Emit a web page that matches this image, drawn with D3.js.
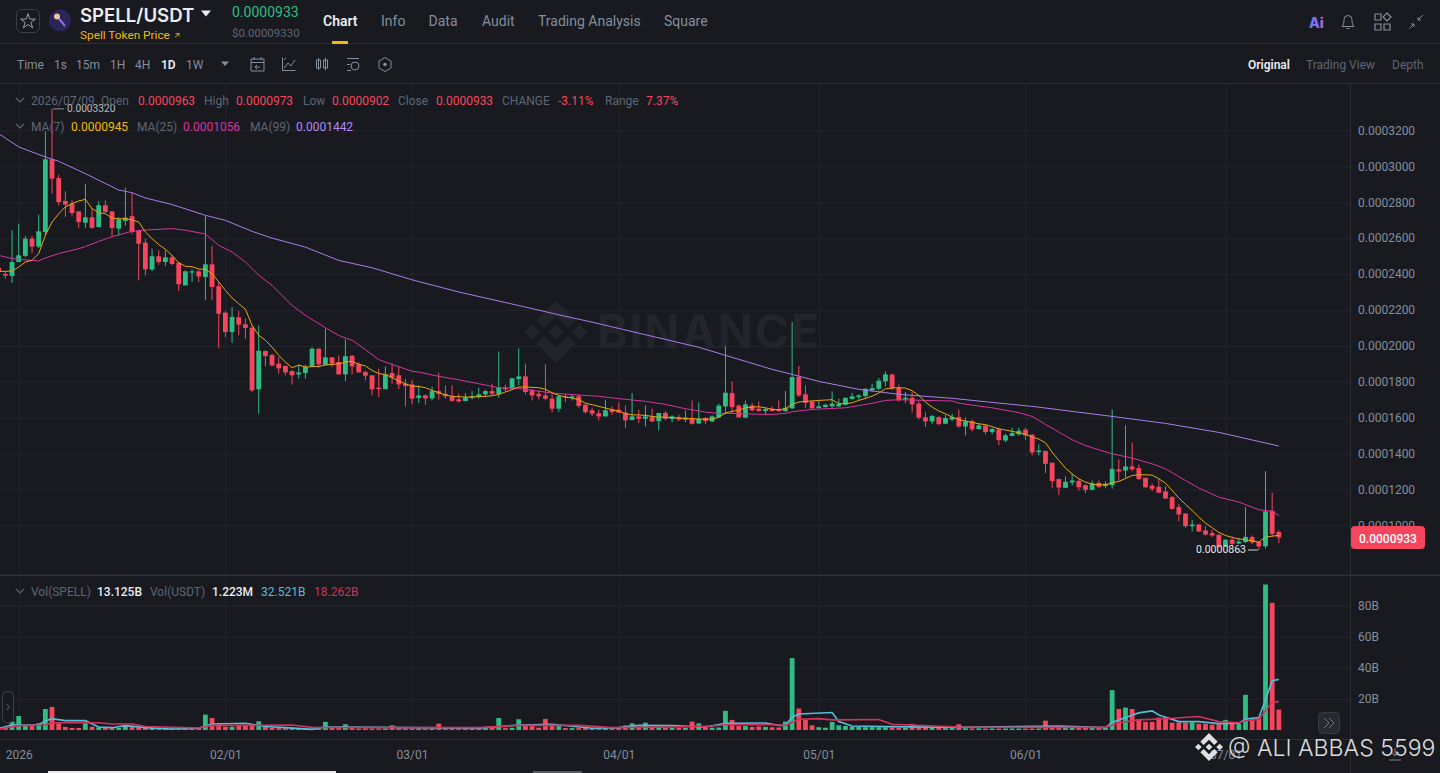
<!DOCTYPE html>
<html>
<head>
<meta charset="utf-8">
<title>SPELL/USDT</title>
<script src="https://cdn.jsdelivr.net/npm/d3@7"></script>
<style>
  html, body { margin: 0; padding: 0; background: #181a20; overflow: hidden; }
  svg { display: block; }
  text { font-family: "Roboto", "Inter", sans-serif; }
  .domain { display: none; }
</style>
</head>
<body>
<svg id="chart" width="1440" height="773"></svg>
<script>
// Dades: preus en unitats de 0.0000001, un valor per dia des del 2025/12/29 (dia -3)
var firstDay = -3;
var opens = [
  2434,2400,2389,2467,2501,2597,2553,2634,3039,2935,
  2807,2792,2749,2686,2716,2662,2783,2749,2653,2696,
  2722,2644,2575,2425,2499,2467,2493,2463,2337,2408,
  2415,2384,2454,2332,2185,2077,2159,2120,2101,1758,
  1971,1949,1901,1888,1860,1841,1849,1886,1984,1895,
  1936,1910,1841,1945,1897,1854,1836,1767,1759,1849,
  1836,1789,1785,1709,1724,1707,1748,1733,1719,1702,
  1693,1711,1715,1730,1748,1733,1767,1761,1815,1830,
  1752,1733,1724,1706,1650,1719,1711,1719,1672,1641,
  1624,1607,1646,1644,1628,1587,1607,1594,1603,1581,
  1626,1592,1603,1589,1598,1568,1598,1579,1603,1663,
  1737,1667,1600,1668,1650,1637,1650,1646,1637,1652,
  1826,1730,1689,1654,1659,1663,1663,1672,1704,1715,
  1720,1752,1761,1802,1841,1765,1702,1711,1678,1602,
  1579,1603,1566,1589,1603,1551,1581,1537,1555,1520,
  1535,1473,1498,1507,1533,1505,1408,1414,1349,1258,
  1209,1239,1248,1224,1198,1237,1219,1224,1312,1306,
  1328,1319,1265,1221,1215,1189,1157,1102,1066,996,
  1005,972,957,948,883,920,899,907,935,907,
  884,1081,963];
var highs = [
  2439,2415,2644,2681,2612,2612,2731,3195,3320,2954,
  2861,2811,2749,2904,2768,2805,2811,2749,2718,2881,
  2853,2644,2597,2541,2532,2532,2504,2463,2421,2426,
  2421,2723,2555,2356,2192,2215,2194,2152,2114,2114,
  1975,1956,1938,1891,1863,1895,1895,1993,1986,2096,
  1938,1947,2036,1947,1910,1863,1836,1873,1886,1901,
  1882,1817,1808,1780,1730,1774,1850,1780,1780,1733,
  1737,1748,1767,1756,1789,1969,1784,1823,1986,1901,
  1761,1752,1897,1733,1726,1733,1730,1730,1678,1655,
  1644,1700,1663,1685,1668,1737,1644,1668,1650,1626,
  1637,1613,1616,1641,1696,1685,1603,1613,1678,1997,
  1802,1674,1696,1681,1691,1655,1663,1696,1748,2133,
  1888,1780,1696,1691,1678,1746,1706,1711,1737,1730,
  1765,1789,1821,1858,1845,1785,1743,1743,1693,1629,
  1616,1607,1616,1622,1646,1600,1589,1566,1561,1544,
  1544,1511,1544,1544,1544,1510,1451,1417,1349,1260,
  1273,1287,1260,1228,1250,1250,1245,1646,1367,1557,
  1462,1338,1265,1232,1260,1217,1163,1120,1068,1031,
  1009,994,975,948,925,938,931,1102,944,912,
  1302,1182,973];
var lows = [
  2393,2374,2350,2467,2493,2517,2545,2612,2848,2783,
  2718,2722,2658,2658,2653,2658,2742,2610,2616,2668,
  2623,2365,2393,2417,2452,2445,2449,2306,2337,2356,
  2356,2254,2254,1988,2049,2018,2059,2040,1743,1622,
  1886,1886,1845,1836,1785,1817,1817,1882,1878,1891,
  1882,1839,1804,1841,1850,1808,1724,1715,1758,1789,
  1759,1663,1674,1681,1672,1696,1700,1706,1689,1685,
  1691,1702,1706,1715,1722,1711,1746,1756,1780,1730,
  1696,1702,1696,1629,1631,1687,1696,1655,1622,1609,
  1585,1607,1616,1626,1542,1585,1570,1551,1576,1529,
  1585,1574,1581,1576,1561,1563,1563,1576,1600,1618,
  1622,1600,1598,1635,1635,1615,1635,1633,1631,1648,
  1715,1655,1650,1650,1655,1655,1659,1668,1700,1696,
  1706,1746,1752,1774,1756,1691,1681,1629,1589,1548,
  1566,1557,1563,1581,1544,1501,1524,1533,1507,1507,
  1446,1464,1496,1499,1477,1390,1390,1291,1209,1170,
  1208,1222,1193,1180,1195,1208,1209,1204,1250,1265,
  1302,1254,1209,1191,1180,1148,1089,1024,987,966,
  964,944,935,879,879,888,897,901,897,863,
  870,938,902];
var closes = [
  2411,2391,2467,2504,2597,2553,2638,3039,2931,2801,
  2787,2740,2690,2716,2658,2783,2746,2657,2705,2714,
  2634,2569,2426,2499,2467,2493,2456,2343,2415,2415,
  2387,2454,2328,2179,2077,2161,2118,2100,1752,1973,
  1943,1891,1875,1852,1836,1852,1882,1984,1897,1936,
  1901,1841,1943,1886,1852,1834,1758,1759,1841,1823,
  1785,1776,1706,1724,1707,1748,1733,1719,1694,1691,
  1713,1719,1730,1748,1733,1767,1758,1819,1830,1743,
  1724,1719,1706,1650,1719,1713,1719,1665,1631,1622,
  1607,1641,1631,1628,1585,1607,1594,1607,1579,1626,
  1594,1607,1589,1600,1566,1594,1581,1607,1667,1739,
  1659,1602,1674,1641,1637,1648,1637,1637,1655,1826,
  1724,1683,1652,1663,1672,1678,1676,1711,1719,1724,
  1761,1765,1806,1841,1765,1696,1711,1674,1600,1579,
  1609,1564,1598,1603,1551,1579,1535,1557,1520,1537,
  1475,1501,1514,1527,1501,1406,1417,1343,1247,1211,
  1243,1250,1213,1198,1235,1215,1232,1315,1300,1328,
  1312,1258,1213,1204,1182,1150,1092,1061,996,1005,
  966,949,944,879,920,897,910,936,905,883,
  1078,953,933];
// Volum en milers de milions (B), mateix ordre
var volumes = [
  1.4,1.4,5.4,9,3.2,2.8,4.3,13.5,14.8,4.3,
  2,1.3,1.3,4.3,2.1,1.7,1.3,1.3,1.3,3.2,
  1.9,1.5,1.3,1.3,1.2,1.2,1,1.1,1.2,1.1,
  1.2,9.9,7.7,3.9,2.1,2.1,2.8,2.8,3.9,5.6,
  2.1,1.3,1.2,1.1,1,1.2,1.3,0.9,1,5.2,
  1.3,1.2,3.7,1.3,1,1.1,1,1,1,3,
  1.2,1,1,1,1,1,4.1,1.2,1,1,
  0.9,1,1,1.2,1.5,7.7,1.2,1.4,6.9,2.6,
  2.6,1.5,7.1,2.6,2.6,1.2,1.2,1.2,1.2,1,
  1,1.2,1.3,1.7,3,4.3,1.6,4.7,2,2,
  1.5,1.4,1.5,1.5,5.4,4.3,1.5,1.5,1.6,12.3,
  6.5,2.6,2.6,2,2.3,2,1.8,1.6,5.4,46.2,
  13.8,6.5,3,1.8,1.5,5.2,3,2.6,2.1,2,
  1.8,1.8,1.8,1.7,1.6,1.3,1.4,3.9,2.2,1.8,
  1.4,1.4,1.2,1.2,3.7,1.1,1,1.1,1,1,
  1,1,1,1,1,1,1,6,2,1.6,
  1.4,1.3,1.4,1.6,1.3,1.2,1.3,25.6,13.5,14.4,
  13.5,6.9,5.2,5.2,8,8,4.7,4.9,4.7,4.9,
  4,4,3.4,3.7,6.5,4,4,22.6,7.5,7.5,
  93.5,81.7,13.125];
var ma7 = [
  2415,2415,2417,2439,2467,2476,2514,2616,2690,2736,
  2774,2792,2807,2816,2764,2742,2736,2712,2707,2709,
  2701,2690,2634,2597,2564,2538,2504,2463,2443,2441,
  2428,2426,2402,2356,2309,2267,2235,2204,2114,2059,
  2031,1993,1947,1910,1878,1893,1882,1884,1886,1893,
  1897,1899,1910,1914,1897,1888,1863,1845,1841,1823,
  1804,1789,1776,1774,1767,1752,1739,1726,1719,1717,
  1715,1715,1717,1719,1722,1730,1743,1756,1771,1771,
  1769,1767,1758,1739,1724,1715,1709,1700,1681,1672,
  1663,1654,1644,1637,1622,1616,1615,1613,1607,1603,
  1603,1600,1598,1596,1594,1592,1592,1592,1602,1626,
  1635,1641,1655,1659,1661,1655,1646,1644,1650,1674,
  1687,1691,1693,1696,1698,1700,1678,1678,1683,1696,
  1707,1720,1737,1761,1765,1767,1765,1750,1724,1687,
  1659,1637,1622,1603,1589,1581,1574,1566,1561,1550,
  1538,1531,1524,1516,1507,1492,1481,1460,1408,1362,
  1319,1287,1260,1241,1230,1226,1226,1237,1245,1261,
  1278,1282,1282,1280,1260,1235,1195,1152,1117,1083,
  1046,1013,987,961,944,933,925,920,914,907,
  935,940,945];
var ma25Days = [-3,-1,0,3,4,6,9,10,12,14,17,19,23,25,28,30,32,34,36,38,41,43,46,48,50,52,54,56,59,60,63,66,69,72,75,80,84,87,90,94,97,100,103,105,107,110,113,115,116,118,120,124,126,128,130,132,136,140,141,143,146,150,152,153,154,156,158,160,162,164,167,170,172,175,177,180,183,186,188,189];
var ma25 = [2504,2486,2482,2473,2490,2514,2541,2553,2582,2608,2638,2645,2653,2644,2623,2560,2523,2467,2393,2337,2225,2170,2101,2058,2031,1979,1923,1897,1858,1854,1830,1811,1789,1767,1763,1737,1726,1719,1706,1691,1674,1650,1631,1624,1624,1620,1618,1624,1633,1642,1648,1655,1667,1680,1696,1700,1696,1693,1681,1670,1655,1628,1607,1585,1562,1520,1477,1445,1421,1399,1375,1343,1315,1250,1208,1157,1130,1087,1079,1056];
var ma99Days = [-3,0,4,6,10,15,17,19,23,28,31,35,38,43,48,53,59,66,76,81,86,102,113,116,120,126,132,140,146,152,164,172,180,189];
var ma99 = [3182,3108,3052,3028,2959,2868,2853,2824,2787,2727,2699,2638,2600,2550,2476,2435,2368,2300,2216,2173,2132,1992,1869,1841,1802,1758,1730,1708,1685,1663,1607,1568,1518,1442];
var volCyanDays = [-3,-1,3,4,5,7,10,12,14,16,19,23,27,29,34,37,40,44,46,49,59,69,75,80,86,90,93,98,103,106,112,114,115,116,117,122,123,125,130,141,156,163,164,166,168,170,171,174,177,180,183,184,186,187,188,189];
var volCyan = [1.1,3.2,3.4,5.8,7.3,6,6,1.9,1.5,2.8,1.5,0.6,1.1,3.9,4.3,2.2,1.5,0.4,1.9,1.9,1.5,1.2,3.2,3.7,1.1,1.5,3,2.8,1.9,4.3,4.5,3,3,8.2,10.3,11.2,5.4,2.6,2.2,1.7,2.6,1.5,4.9,8,11,12.3,9.7,5.4,5.4,4.1,4.3,7.1,8,19.4,31.6,32.521];
var volRedDays = [-3,0,4,5,12,14,17,19,27,29,32,41,44,69,75,84,89,98,104,106,113,115,117,120,122,129,131,141,154,163,165,168,172,177,180,183,184,186,188,189];
var volRed = [0.6,2.8,3.2,4.7,4.7,3.9,3.9,2.2,1.3,3,3,3.2,1.7,1.5,3,3,1.5,1.9,2.6,3.4,3.4,3,6.9,7.3,6.5,6.7,3.7,1.9,1.7,1.7,4.7,6.5,7.2,8.7,5.4,4.7,6,6.9,17.8,18.262];

var priceTicks = [1000,1200,1400,1600,1800,2000,2200,2400,2600,2800,3000,3200];
var volumeTicks = [20,40,60,80];
var monthDays = [0,31,59,90,120,151,181];
var monthLabels = ["2026","02/01","03/01","04/01","05/01","06/01","07/01"];

var navTabs = ["Chart","Info","Data","Audit","Trading Analysis","Square"];
var navTabX = [323,381,428.5,482,538,664];
var intervals = ["Time","1s","15m","1H","4H","1D","1W"];
var intervalX = [17,54,76,110,135,161,186];

var colUp = "#2ebd85", colDown = "#f6465d", colGray = "#5e6673", colText = "#848e9c";
var colGrid = "#23262d", colLine = "#2b2f36";

var svg = d3.select("#chart");

// Escales
var x = d3.scaleLinear().domain([0, 181]).range([18.7, 1225.5]);
var y = d3.scaleLinear().domain([1000, 3200]).range([525.4, 130.4]);
var yVol = d3.scaleLinear().domain([0, 80]).range([730, 605.5]);
var days = d3.range(opens.length).map(function(i) { return firstDay + i; });

function label(g, px, py, str, color, size, weight, anchor) {
  return g.append("text").attr("x", px).attr("y", py).attr("fill", color)
    .attr("font-size", size).attr("font-weight", weight || 400)
    .attr("text-anchor", anchor || "start").text(str);
}

// Logotip de rombes
function binanceLogo(g, cx, cy, s) {
  var shapes = [
    [[0,-0.24],[0.24,0],[0,0.24],[-0.24,0]],
    [[-0.76,-0.24],[-0.52,0],[-0.76,0.24],[-1,0]],
    [[0.76,-0.24],[1,0],[0.76,0.24],[0.52,0]],
    [[0,-1],[0.62,-0.38],[0.38,-0.14],[0,-0.52],[-0.38,-0.14],[-0.62,-0.38]],
    [[0,1],[0.62,0.38],[0.38,0.14],[0,0.52],[-0.38,0.14],[-0.62,0.38]]
  ];
  var shapeLine = d3.line().x(function(d) { return cx + d[0] * s; }).y(function(d) { return cy + d[1] * s; });
  shapes.forEach(function(sh) { g.append("path").attr("d", shapeLine(sh) + "Z"); });
}

// Quadrícula i eixos
var grid = svg.append("g");
grid.append("g").attr("transform", "translate(1350,0)")
  .call(d3.axisLeft(y).tickValues(priceTicks).tickSize(1350).tickFormat(""))
  .selectAll("line").attr("stroke", colGrid);
grid.append("g").attr("transform", "translate(1350,0)")
  .call(d3.axisLeft(yVol).tickValues(volumeTicks).tickSize(1350).tickFormat(""))
  .selectAll("line").attr("stroke", colGrid);
grid.append("g").attr("transform", "translate(0,739.5)")
  .call(d3.axisTop(x).tickValues(monthDays).tickSize(655).tickFormat(""))
  .selectAll("line").attr("stroke", colGrid);

// Marca d'aigua
var wm = svg.append("g").attr("fill", "#22252c");
binanceLogo(wm, 556, 332, 31);
wm.append("text").attr("x", 597).attr("y", 348).attr("font-size", 46).attr("font-weight", 700)
  .style("font-family", "Inter").attr("letter-spacing", 2).text("BINANCE");

// Panell de preus
svg.append("clipPath").attr("id", "clipPrice").append("rect")
  .attr("x", 0).attr("y", 84).attr("width", 1350).attr("height", 491);
var price = svg.append("g").attr("clip-path", "url(#clipPrice)");

var candle = price.selectAll("g.candle").data(days).enter().append("g").attr("class", "candle")
  .attr("fill", function(d, i) { return closes[i] >= opens[i] ? colUp : colDown; });
candle.append("rect")
  .attr("x", function(d) { return x(d) - 0.5; })
  .attr("width", 1)
  .attr("y", function(d, i) { return y(highs[i]); })
  .attr("height", function(d, i) { return y(lows[i]) - y(highs[i]); });
candle.append("rect")
  .attr("x", function(d) { return x(d) - 2.4; })
  .attr("width", 4.8)
  .attr("y", function(d, i) { return y(Math.max(opens[i], closes[i])); })
  .attr("height", function(d, i) { return Math.max(1, Math.abs(y(opens[i]) - y(closes[i]))); });

var priceLine = d3.line().x(function(d) { return x(d[0]); }).y(function(d) { return y(d[1]); });
function drawPriceLine(dayList, values, color) {
  price.append("path").datum(d3.zip(dayList, values))
    .attr("fill", "none").attr("stroke", color).attr("stroke-width", 1).attr("d", priceLine);
}
drawPriceLine(ma99Days, ma99, "#a97ce8");
drawPriceLine(ma25Days, ma25, "#d6359a");
drawPriceLine(days, ma7, "#e8a90c");

// Marques de màxim i mínim
var hiLo = svg.append("g");
hiLo.append("line").attr("x1", x(5) + 1).attr("x2", 64).attr("y1", y(3320)).attr("y2", y(3320)).attr("stroke", "#8a8f98");
label(hiLo, 67, y(3320) + 3.5, "0.0003320", "#b9bdc4", 10.2);
hiLo.append("line").attr("x1", 1248).attr("x2", x(186) - 1).attr("y1", y(863)).attr("y2", y(863)).attr("stroke", "#d0d2d6");
label(hiLo, 1246, y(863) + 3.5, "0.0000863", "#e6e8ea", 10.5, 400, "end");

// Panell de volum
var vol = svg.append("g");
vol.selectAll("rect").data(days).enter().append("rect")
  .attr("x", function(d) { return x(d) - 2.4; })
  .attr("width", 4.8)
  .attr("y", function(d, i) { return yVol(volumes[i]); })
  .attr("height", function(d, i) { return yVol(0) - yVol(volumes[i]); })
  .attr("fill", function(d, i) { return closes[i] >= opens[i] ? colUp : colDown; });
var volLine = d3.line().x(function(d) { return x(d[0]); }).y(function(d) { return yVol(d[1]); });
vol.append("path").datum(d3.zip(volCyanDays, volCyan)).attr("fill", "none")
  .attr("stroke", "#56bcd8").attr("stroke-width", 1.6).attr("d", volLine);
vol.append("path").datum(d3.zip(volRedDays, volRed)).attr("fill", "none")
  .attr("stroke", "#d2335c").attr("stroke-width", 1.6).attr("d", volLine);

// Línies de separació
svg.append("line").attr("x1", 0).attr("x2", 1440).attr("y1", 43.5).attr("y2", 43.5).attr("stroke", colLine);
svg.append("line").attr("x1", 0).attr("x2", 1440).attr("y1", 83.5).attr("y2", 83.5).attr("stroke", colLine);
svg.append("line").attr("x1", 0).attr("x2", 1440).attr("y1", 575.5).attr("y2", 575.5).attr("stroke", "#2f333b").attr("stroke-width", 1.5);
svg.append("line").attr("x1", 0).attr("x2", 1350).attr("y1", 739.5).attr("y2", 739.5).attr("stroke", colLine);
svg.append("line").attr("x1", 1350.5).attr("x2", 1350.5).attr("y1", 84).attr("y2", 773).attr("stroke", colLine);

// Eixos de text
var axisPrice = svg.append("g").attr("transform", "translate(1350,0)")
  .call(d3.axisRight(y).tickValues(priceTicks).tickSize(0).tickPadding(8)
    .tickFormat(function(d) { return (d / 1e7).toFixed(7); }));
axisPrice.selectAll("text").attr("fill", colText).attr("font-size", 12);
var axisVol = svg.append("g").attr("transform", "translate(1350,0)")
  .call(d3.axisRight(yVol).tickValues(volumeTicks).tickSize(0).tickPadding(8)
    .tickFormat(function(d) { return d + "B"; }));
axisVol.selectAll("text").attr("fill", colText).attr("font-size", 12);
var axisTime = svg.append("g").attr("transform", "translate(0,747)")
  .call(d3.axisBottom(x).tickValues(monthDays).tickSize(0).tickPadding(3)
    .tickFormat(function(d, i) { return monthLabels[i]; }));
axisTime.selectAll("text").attr("fill", colText).attr("font-size", 12);

// Etiqueta del darrer preu
var last = svg.append("g");
last.append("rect").attr("x", 1351).attr("y", 526).attr("width", 74).attr("height", 23).attr("rx", 4).attr("fill", colDown);
label(last, 1388, 542.5, "0.0000933", "#ffffff", 12, 500, "middle");

// Llegendes
function legendRow(yPos, parts) {
  parts.forEach(function(p) { label(svg, p[0], yPos, p[1], p[2], 12, p[3] || 400); });
}
function chevron(px, py) {
  svg.append("path").attr("d", "M" + (px - 4) + " " + (py - 2) + "l4 4l4 -4")
    .attr("fill", "none").attr("stroke", colGray).attr("stroke-width", 1.1);
}
chevron(20, 100); chevron(20, 126); chevron(20, 591);
legendRow(105, [[31,"2026/07/09",colGray],[101,"Open",colGray],[138,"0.0000963",colDown],[204,"High",colGray],
  [236,"0.0000973",colDown],[303,"Low",colGray],[332,"0.0000902",colDown],[398,"Close",colGray],
  [436,"0.0000933",colDown],[502,"CHANGE",colGray],[558,"-3.11%",colDown],[605,"Range",colGray],[646,"7.37%",colDown]]);
legendRow(131, [[31,"MA(7)",colGray],[71,"0.0000945","#f0b90b"],[137,"MA(25)",colGray],[183,"0.0001056","#d6359a"],
  [250,"MA(99)",colGray],[296,"0.0001442","#b08cf0"]]);
legendRow(596, [[31,"Vol(SPELL)",colGray],[97,"13.125B","#eaecef",500],[150,"Vol(USDT)",colGray],[212,"1.223M","#eaecef",500],
  [261,"32.521B","#56bcd8"],[314,"18.262B","#c9345a"]]);

// Capçalera
var head = svg.append("g");
head.append("rect").attr("x", 16.5).attr("y", 9.5).attr("width", 23).attr("height", 23).attr("rx", 5)
  .attr("fill", "none").attr("stroke", "#3a3f48");
head.append("path").attr("d", d3.symbol(d3.symbolStar, 70)()).attr("transform", "translate(28,21.5)")
  .attr("fill", "none").attr("stroke", "#9aa1ab");
head.append("circle").attr("cx", 60).attr("cy", 20.5).attr("r", 11).attr("fill", "#2a2458");
head.append("line").attr("x1", 56).attr("y1", 15).attr("x2", 65).attr("y2", 26).attr("stroke", "#8f6fd8").attr("stroke-width", 2);
head.append("circle").attr("cx", 57).attr("cy", 16.5).attr("r", 3).attr("fill", "#e8c9a0");
label(head, 80, 22, "SPELL/USDT", "#eaecef", 18.6, 600).style("font-family", "Inter");
head.append("path").attr("d", "M201 10.5h10l-5 6z").attr("fill", "#eaecef");
label(head, 80, 38.5, "Spell Token Price", "#f0b90b", 11.8);
label(head, 174, 38, "\u2197", "#f0b90b", 8);
label(head, 232, 17, "0.0000933", colUp, 14);
label(head, 232, 37, "$0.00009330", colGray, 11.5);
navTabs.forEach(function(t, i) {
  label(head, navTabX[i], 25.5, t, i === 0 ? "#eaecef" : "#848e9c", 14, i === 0 ? 600 : 400);
});
head.append("rect").attr("x", 332).attr("y", 41).attr("width", 16).attr("height", 3).attr("fill", "#f0b90b");
var aiGrad = svg.append("linearGradient").attr("id", "aiGrad");
aiGrad.append("stop").attr("offset", "0%").attr("stop-color", "#5b7cf5");
aiGrad.append("stop").attr("offset", "100%").attr("stop-color", "#b06ce8");
label(head, 1309, 28, "Ai", "url(#aiGrad)", 14, 800).style("font-family", "Inter");
head.append("path").attr("d", "M1342 26.500h12c-1.500 -1.500 -2 -3.500 -2 -7a4 4 0 0 0 -8 0c0 3.500 -0.500 5.500 -2 7zM1346.500 28.500h3")
  .attr("fill", "none").attr("stroke", "#848e9c");
head.append("path").attr("d", "M1375 14h6v6h-6zM1384 24h6v6h-6zM1375 24h6v6h-6zM1387 13l4 4l-4 4l-4 -4z")
  .attr("fill", "none").attr("stroke", "#848e9c").attr("stroke-width", 1.2);
head.append("path").attr("d", "M1423 15l-5 5M1414 24l-4.500 4.500M1418 17v3h3M1414 27v-3h-3")
  .attr("fill", "none").attr("stroke", "#848e9c");

// Barra d'eines
var tools = svg.append("g");
intervals.forEach(function(t, i) {
  label(tools, intervalX[i], 69, t, t === "1D" ? "#eaecef" : "#848e9c", 12, t === "1D" ? 600 : 400);
});
tools.append("path").attr("d", "M221 61.500h8l-4 4.500z").attr("fill", "#848e9c");
tools.append("path").attr("d", "M251 59h13v12h-13zM251 62.500h13M254 57v3M261 57v3M260 67h-5l2 -2M255 67l2 2")
  .attr("fill", "none").attr("stroke", "#848e9c");
tools.append("path").attr("d", "M282.500 57.500v13h13M284 68l4 -5l3 3l4 -6M284 60l2 -2").attr("fill", "none").attr("stroke", "#848e9c");
tools.append("path").attr("d", "M316.500 60h4v8h-4zM318.500 58v12M323.500 60h4v8h-4zM325.500 58v12").attr("fill", "none").attr("stroke", "#848e9c");
tools.append("path").attr("d", "M347 58.500h12M347 70.500h4M347 64.500h3").attr("fill", "none").attr("stroke", "#848e9c");
tools.append("circle").attr("cx", 355).attr("cy", 66).attr("r", 4).attr("fill", "none").attr("stroke", "#848e9c");
tools.append("path").attr("d", "M385 57.500l6 3.500v7l-6 3.500l-6 -3.500v-7z").attr("fill", "none").attr("stroke", "#848e9c");
tools.append("circle").attr("cx", 385).attr("cy", 64.500).attr("r", 1.800).attr("fill", "#848e9c");
label(tools, 1248, 69, "Original", "#eaecef", 12, 600);
label(tools, 1306, 69, "Trading View", colGray, 12);
label(tools, 1392, 69, "Depth", colGray, 12);

// Botons del gràfic
svg.append("rect").attr("x", 2.5).attr("y", 691.5).attr("width", 11).attr("height", 31).attr("rx", 4)
  .attr("fill", "#181a20").attr("stroke", "#3a3f48");
svg.append("path").attr("d", "M6.500 704l3 3l-3 3").attr("fill", "none").attr("stroke", "#5e6673");
svg.append("rect").attr("x", 1318.5).attr("y", 712.5).attr("width", 21).attr("height", 21).attr("rx", 4)
  .attr("fill", "#262a32").attr("stroke", "#363b44");
svg.append("path").attr("d", "M1324 718l5 5l-5 5M1329 718l5 5l-5 5").attr("fill", "none").attr("stroke", "#6f7682");

// Peu: descàrrega, marca i franja inferior
svg.append("path").attr("d", "M1395 748v8M1391 752l4 4l4 -4M1389 760h12").attr("fill", "none").attr("stroke", "#7b828d");
var logo = svg.append("g").attr("fill", "#e0e0e0");
binanceLogo(logo, 1209, 747, 14);
label(svg, 1228, 755.5, "@ ALI ABBAS 5599", "#dcdcdc", 23.1, 300).style("font-family", "Inter");
svg.append("rect").attr("x", 48).attr("y", 771).attr("width", 288).attr("height", 2).attr("fill", "#e8e8e8");
svg.append("rect").attr("x", 533).attr("y", 771).attr("width", 49).attr("height", 2).attr("fill", "#55585e");
</script>
</body>
</html>
